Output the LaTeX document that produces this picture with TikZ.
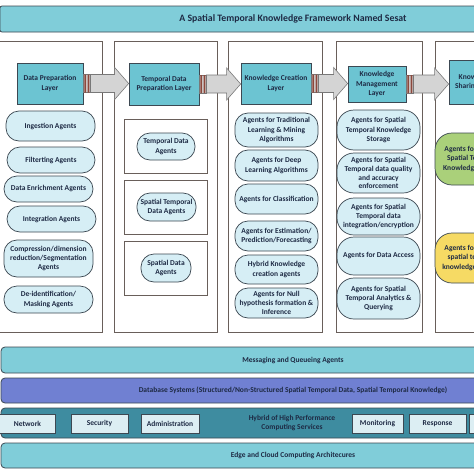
\documentclass[tikz,border=0pt]{standalone}
\usepackage{fontspec}
\setmainfont{Carlito}
\usetikzlibrary{calc}
\definecolor{ink}{RGB}{30,42,68}
\definecolor{edgec}{RGB}{60,72,82}
\definecolor{colline}{RGB}{105,95,90}
\definecolor{titlefill}{RGB}{128,205,217}
\definecolor{headfill}{RGB}{108,196,210}
\definecolor{pillfill}{RGB}{214,238,245}
\definecolor{greenfill}{RGB}{170,208,122}
\definecolor{yellowfill}{RGB}{246,218,100}
\definecolor{dbfill}{RGB}{112,128,210}
\definecolor{hpcfill}{RGB}{62,140,160}
\definecolor{boxfill}{RGB}{220,238,243}
\definecolor{arrowfill}{RGB}{212,212,212}
\definecolor{arrowline}{RGB}{120,120,120}
\definecolor{stripec}{RGB}{140,72,60}
\newcommand\blockarr[2]{%
  \draw[draw=arrowline, fill=arrowfill, line width=0.6pt] let \p1=(#1.east), \p2=(#2.west) in
    (\x1+7pt,\y1+9pt) -- (\x2-14pt,\y1+9pt) -- (\x2-14pt,\y1+16pt) -- (\x2,\y1)
    -- (\x2-14pt,\y1-16pt) -- (\x2-14pt,\y1-9pt) -- (\x1+7pt,\y1-9pt) -- cycle;
  \draw[draw=arrowline, fill=arrowfill, line width=0.6pt] let \p1=(#1.east) in
    (\x1,\y1+9pt) rectangle (\x1+7pt,\y1-9pt);
  \fill[stripec] let \p1=(#1.east) in
    (\x1+1pt,\y1+9pt) rectangle (\x1+2.8pt,\y1-9pt)
    (\x1+4.2pt,\y1+9pt) rectangle (\x1+6pt,\y1-9pt);
}
\begin{document}
\begin{tikzpicture}[x=1pt,y=-1pt,
  every node/.style={font=\bfseries\fontsize{7.5}{9.3}\selectfont, text=ink, align=center, inner sep=0.5pt},
  sz/.style 2 args={minimum width=#1pt, minimum height=#2pt},
  colbox/.style={draw=colline, line width=0.8pt, fill=white},
  innerbox/.style={draw=colline, line width=0.8pt, fill=white},
  head/.style={draw=edgec, line width=0.7pt, fill=headfill},
  pill/.style={draw=edgec, line width=0.7pt, fill=pillfill, rounded corners=13pt},
  tallpill/.style={pill, rounded corners=17pt},
  bar/.style={draw=edgec, line width=0.8pt, rounded corners=4pt},
  hbox/.style={draw=edgec, line width=0.6pt, fill=boxfill}
]
\useasboundingbox (0,0) rectangle (474,474);
\clip (0,0) rectangle (474,474);
\fill[white] (0,0) rectangle (474,474);

% title
\node[bar, fill=titlefill, rounded corners=2pt, sz={586}{26}, font=\bfseries\fontsize{9.8}{11}\selectfont] (title) at (293,19) {A Spatial Temporal Knowledge Framework Named Sesat};

% columns
\node[colbox, sz={107}{291}] (c1) at (48.5,186.5) {};
\node[colbox, sz={103}{291}] (c2) at (165.5,186.5) {};
\node[colbox, sz={94}{291}] (c3) at (275,186.5) {};
\node[colbox, sz={86}{291}] (c4) at (379,186.5) {};
\node[colbox, sz={125}{291}] (c5) at (497.5,186.5) {};

% headers
\node[head, sz={66}{41}] (h1) at (50,83.5) {Data Preparation\\Layer};
\node[head, sz={70}{42}] (h2) at (164,84) {Temporal Data\\Preparation Layer};
\node[head, sz={70}{41}] (h3) at (276,83.5) {Knowledge Creation\\Layer};
\node[head, sz={58}{36}] (h4) at (377,84) {Knowledge\\Management\\Layer};
\node[head, sz={54}{44}] (h5) at (476,82) {Knowledge\\Sharing Layer};

% arrows between layers
\blockarr{h1}{h2}
\blockarr{h2}{h3}
\blockarr{h3}{h4}
\blockarr{h4}{h5}

% column 1
\node[pill, sz={89}{30}] (p11) at (50.5,126) {Ingestion Agents};
\node[pill, sz={88}{26}] (p12) at (51,160) {Filterting Agents};
\node[pill, sz={89}{26}] (p13) at (48.5,189) {Data Enrichment Agents};
\node[pill, sz={89}{26}] (p14) at (51.5,219) {Integration Agents};
\node[pill, sz={89}{37}] (p15) at (48.5,258.5) {Compression/dimension\\reduction/Segmentation\\Agents};
\node[pill, sz={89}{27}] (p16) at (48.5,299.5) {De-identification/\\Masking Agents};

% column 2
\node[innerbox, sz={83}{54}] (r21) at (165.5,146) {};
\node[innerbox, sz={83}{54}] (r22) at (165.5,207) {};
\node[innerbox, sz={83}{54}] (r23) at (165.5,268) {};
\node[pill, sz={58}{27}] (p21) at (166,146.5) {Temporal Data\\Agents};
\node[pill, sz={59}{28}] (p22) at (166.5,207) {Spatial Temporal\\Data Agents};
\node[pill, sz={50}{28}] (p23) at (166,268) {Spatial Data\\Agents};

% column 3
\node[pill, sz={83}{34}] (p31) at (276.5,130) {Agents for Traditional\\Learning \& Mining\\Algorithms};
\node[pill, sz={83}{31}] (p32) at (276.5,165.5) {Agents for Deep\\Learning Algorithms};
\node[pill, sz={83}{30}] (p33) at (276.5,199) {Agents for Classification};
\node[pill, sz={83}{30}] (p34) at (276.5,236) {Agents for Estimation/\\Prediction/Forecasting};
\node[pill, sz={83}{29}] (p35) at (276.5,269.5) {Hybrid Knowledge\\creation agents};
\node[pill, sz={83}{30}] (p36) at (276.5,303) {Agents for Null\\hypothesis formation \&\\Inference};

% column 4
\node[tallpill, sz={83}{40}] (p41) at (378.5,130) {Agents for Spatial\\Temporal Knowledge\\Storage};
\node[tallpill, sz={83}{40}, font=\bfseries\fontsize{7.5}{8.8}\selectfont] (p42) at (378.5,173) {Agents for Spatial\\Temporal data quality\\and accuracy\\enforcement};
\node[tallpill, sz={83}{37}] (p43) at (378.5,216.5) {Agents for Spatial\\Temporal data\\integration/encryption};
\node[tallpill, sz={83}{38}] (p44) at (378.5,256) {Agents for Data Access};
\node[tallpill, sz={83}{41}] (p45) at (378.5,298.5) {Agents for Spatial\\Temporal Analytics \&\\Querying};

% column 5
\node[tallpill, fill=greenfill, sz={76}{52}] (p51) at (473,159) {Agents for Sharing\\Spatial Temporal\\Knowledge Sharing};
\node[tallpill, fill=yellowfill, sz={76}{50}] (p52) at (473,258) {Agents for Sharing\\spatial temporal\\knowledge securely};

% bottom bars
\node[bar, fill=titlefill, sz={584}{26}] (msg) at (293,360) {Messaging and Queueing Agents};
\node[bar, fill=dbfill, sz={584}{25}] (db) at (293,390.5) {Database Systems (Structured/Non-Structured Spatial Temporal Data, Spatial Temporal Knowledge)};
\node[bar, fill=hpcfill, sz={584}{30}] (hpc) at (293,423) {};
\node[bar, fill=titlefill, sz={584}{25}] (ec) at (293,455.5) {Edge and Cloud Computing Architecures};

\node (hyb) at (292,423) {Hybrid of High Performance\\Computing Services};
\node[hbox, sz={56}{19}] (net) at (27.5,423.5) {Network};
\node[hbox, sz={57}{19}] (sec) at (99.5,423.5) {Security};
\node[hbox, sz={58}{19}] (adm) at (170,423.5) {Administration};
\node[hbox, sz={51}{19}] (mon) at (377.5,423.5) {Monitoring};
\node[hbox, sz={57}{19}] (res) at (437.5,423.5) {Response};
\node[hbox, sz={57}{19}] (more) at (497.5,423.5) {};
\end{tikzpicture}
\end{document}
